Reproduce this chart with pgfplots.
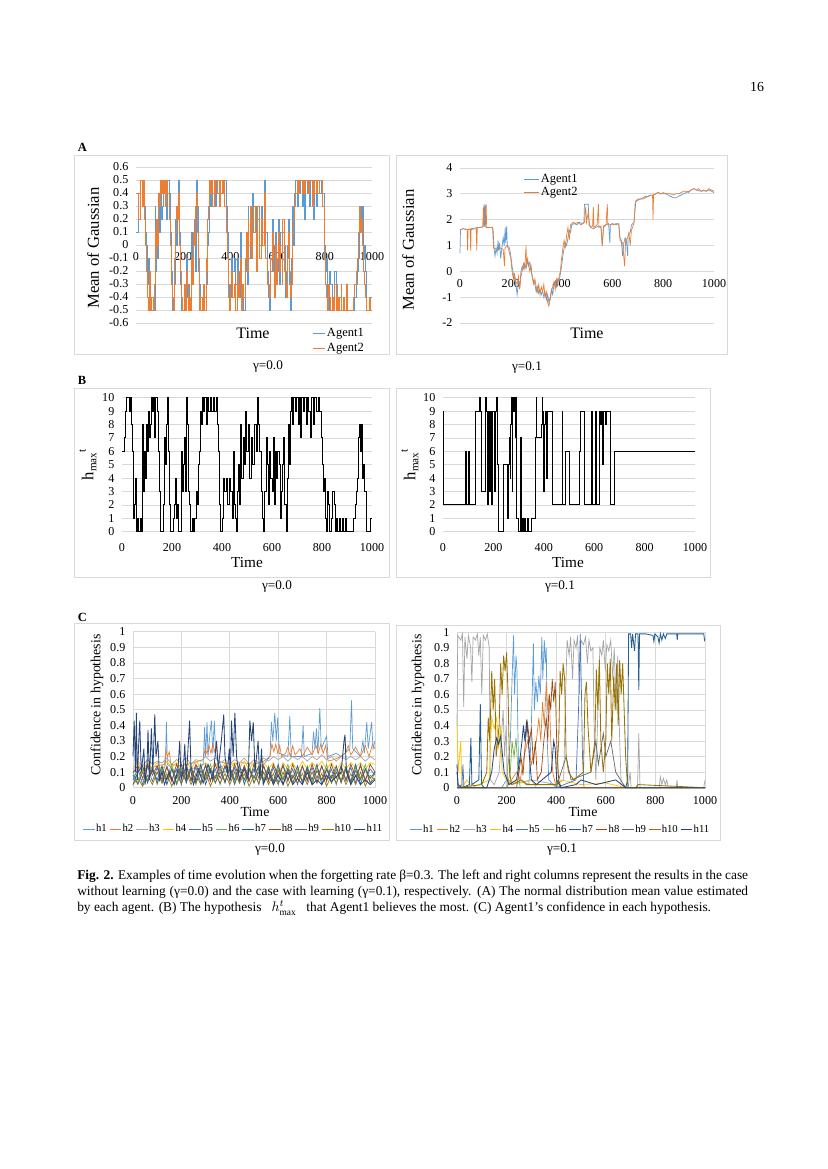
\documentclass[border=0pt]{standalone}
\usepackage{fontspec}
\setmainfont{Liberation Serif}
\usepackage{pgfplots}
\usepackage{pgfplotstable}
\pgfplotsset{compat=1.18}

\definecolor{gridc}{HTML}{D9D9D9}
\definecolor{framec}{HTML}{D9D9D9}
\definecolor{c1}{HTML}{5B9BD5}
\definecolor{c2}{HTML}{ED7D31}
\definecolor{c3}{HTML}{A5A5A5}
\definecolor{c4}{HTML}{FFC000}
\definecolor{c5}{HTML}{4472C4}
\definecolor{c6}{HTML}{70AD47}
\definecolor{c7}{HTML}{255E91}
\definecolor{c8}{HTML}{9E480E}
\definecolor{c9}{HTML}{636363}
\definecolor{c10}{HTML}{997300}
\definecolor{c11}{HTML}{264478}

% h_max of Agent1 (h) and the level of Agent2 (a), gamma=0.0
\pgfplotstableread{
t h a
0 6 9
8 7 8
12 9 7
18 10 10
28 9 8
32 10 10
36 8 7
40 6 5
44 5 3
46 1 2
50 2 1
54 4 0
57 0 3
62 1 0
66 0 1
72 1 0
76 0 2
80 8 6
84 3 4
88 6 7
92 4 5
96 8 9
100 6 8
104 9 10
108 7 9
112 8 10
116 10 9
120 9 10
124 10 8
130 7 10
134 10 9
140 9 7
146 6 5
150 3 2
152 0 1
160 0 0
164 2 4
168 7 6
172 5 8
176 8 7
180 10 9
184 6 5
188 2 3
192 0 1
198 0 0
204 1 2
208 2 0
212 4 3
216 1 2
220 2 0
226 0 1
232 0 0
236 6 4
240 3 2
244 5 6
248 7 5
252 3 8
256 10 9
260 8 6
264 3 4
268 2 0
272 0 1
280 1 0
284 0 2
290 1 0
296 3 4
300 2 3
304 5 7
308 6 8
312 9 10
316 8 9
320 10 10
324 9 8
330 10 10
336 8 9
340 10 9
346 9 10
352 10 8
358 9 10
364 10 9
370 9 10
376 10 8
382 8 6
386 6 4
390 2 1
394 0 0
400 1 2
404 4 3
410 3 1
416 4 2
422 2 0
428 4 3
434 3 1
440 1 2
444 6 4
448 2 0
452 1 2
456 0 1
462 3 4
466 5 6
470 2 3
474 8 7
478 4 5
484 7 8
490 5 4
494 9 7
498 6 8
504 8 6
510 4 3
516 7 8
522 5 4
530 8 7
536 6 5
542 10 9
546 8 7
550 6 4
556 3 2
560 1 2
564 0 1
570 3 4
576 7 6
580 5 3
586 2 1
590 6 5
594 4 2
600 3 4
604 7 6
608 2 3
612 6 5
618 4 2
622 6 7
628 5 3
632 1 2
636 3 1
640 5 4
644 7 6
650 2 3
656 0 1
660 4 2
664 8 6
668 5 7
672 9 8
676 10 9
682 8 10
686 10 9
692 9 10
696 10 10
704 8 9
708 10 10
712 7 9
716 10 10
724 9 10
730 10 9
736 8 10
740 10 10
746 9 8
752 7 10
756 10 9
764 8 10
770 10 9
778 9 10
784 10 10
790 9 8
796 7 6
800 5 4
804 3 2
808 4 1
812 1 0
816 0 2
820 3 1
824 2 0
830 0 1
836 1 0
842 3 2
848 2 0
852 0 1
856 1 0
862 0 1
868 1 2
872 0 0
880 1 1
884 0 0
892 1 2
896 0 0
920 0 1
926 1 2
932 2 3
938 3 4
942 4 6
946 7 8
950 8 6
954 6 7
958 8 5
962 4 3
966 5 2
970 3 1
976 0 0
990 0 1
994 1 0
1000 1 0
}\hleft

% background band of confidences, gamma=0.0
\pgfplotstableread{
t h3 h4 h5 h6 h7 h8 h9 h10
0 0.12 0.15 0.05 0.10 0.02 0.10 0.08 0.02
20 0.17 0.16 0.12 0.03 0.10 0.14 0.02 0.06
40 0.14 0.10 0.02 0.12 0.14 0.06 0.10 0.01
60 0.18 0.16 0.14 0.05 0.03 0.15 0.04 0.08
80 0.15 0.12 0.04 0.14 0.12 0.08 0.12 0.02
100 0.17 0.16 0.13 0.02 0.05 0.14 0.03 0.10
120 0.16 0.11 0.03 0.13 0.14 0.05 0.11 0.03
140 0.19 0.17 0.14 0.06 0.02 0.13 0.05 0.09
160 0.15 0.13 0.05 0.15 0.12 0.04 0.12 0.01
180 0.18 0.16 0.12 0.03 0.06 0.15 0.02 0.08
200 0.16 0.12 0.02 0.12 0.15 0.06 0.10 0.03
220 0.19 0.17 0.14 0.05 0.03 0.14 0.04 0.10
240 0.15 0.12 0.04 0.14 0.13 0.05 0.12 0.02
260 0.18 0.17 0.13 0.02 0.04 0.15 0.03 0.09
280 0.17 0.13 0.03 0.13 0.15 0.07 0.11 0.02
300 0.20 0.16 0.15 0.06 0.02 0.14 0.05 0.10
320 0.17 0.12 0.05 0.15 0.12 0.04 0.12 0.01
340 0.19 0.16 0.12 0.03 0.06 0.15 0.03 0.08
360 0.16 0.11 0.02 0.12 0.14 0.06 0.10 0.03
380 0.18 0.16 0.14 0.04 0.03 0.14 0.04 0.09
400 0.15 0.12 0.04 0.14 0.13 0.05 0.12 0.02
420 0.18 0.16 0.13 0.03 0.05 0.15 0.02 0.10
440 0.16 0.13 0.03 0.13 0.15 0.06 0.11 0.03
460 0.19 0.17 0.14 0.05 0.02 0.14 0.05 0.09
480 0.15 0.12 0.05 0.15 0.12 0.04 0.12 0.01
500 0.18 0.16 0.12 0.03 0.06 0.15 0.03 0.08
520 0.16 0.11 0.02 0.12 0.14 0.06 0.10 0.03
540 0.19 0.16 0.14 0.05 0.03 0.14 0.04 0.10
560 0.17 0.12 0.04 0.14 0.13 0.05 0.12 0.02
580 0.20 0.16 0.13 0.02 0.04 0.15 0.03 0.09
600 0.18 0.08 0.03 0.13 0.15 0.07 0.11 0.02
620 0.20 0.16 0.15 0.06 0.02 0.14 0.05 0.10
640 0.17 0.12 0.05 0.15 0.12 0.04 0.12 0.01
660 0.20 0.16 0.12 0.03 0.06 0.15 0.03 0.08
680 0.18 0.11 0.02 0.12 0.14 0.06 0.10 0.03
700 0.20 0.17 0.14 0.04 0.03 0.14 0.04 0.09
720 0.17 0.12 0.04 0.14 0.13 0.05 0.12 0.02
740 0.20 0.16 0.13 0.03 0.05 0.15 0.02 0.10
760 0.18 0.13 0.03 0.13 0.15 0.06 0.11 0.03
780 0.21 0.17 0.14 0.05 0.02 0.14 0.05 0.09
800 0.18 0.12 0.05 0.15 0.12 0.04 0.12 0.01
820 0.20 0.16 0.12 0.03 0.06 0.15 0.03 0.08
840 0.17 0.11 0.02 0.12 0.14 0.06 0.10 0.03
860 0.20 0.16 0.14 0.05 0.03 0.14 0.04 0.10
880 0.18 0.12 0.04 0.14 0.13 0.05 0.12 0.02
900 0.20 0.16 0.13 0.02 0.04 0.15 0.03 0.09
920 0.18 0.13 0.03 0.13 0.15 0.07 0.11 0.02
940 0.20 0.16 0.15 0.06 0.02 0.14 0.05 0.10
960 0.17 0.12 0.05 0.15 0.12 0.04 0.12 0.01
980 0.20 0.16 0.12 0.03 0.06 0.15 0.03 0.08
1000 0.18 0.15 0.08 0.10 0.10 0.10 0.06 0.05
}\cband

\pgfplotsset{
  base/.style={
    scale only axis, xmin=0, xmax=1000,
    xtick={0,200,400,600,800,1000},
    axis line style={draw=none}, major tick length=0pt,
    ymajorgrids, grid style={draw=gridc, line width=0.5pt},
    tick label style={font=\fontsize{8.7}{10}\selectfont},
    xticklabel style={yshift=-2pt}, yticklabel style={xshift=-2pt},
    /pgf/number format/assume math mode=true,
    /pgf/number format/1000 sep={},
    legend cell align=left, clip=false,
  },
}

\begin{document}
\begin{tikzpicture}[x=0.72pt, y=0.72pt]
\path[use as bounding box, fill=white] (0,0) rectangle (827,1169);

% chart frames
\draw[framec, line width=0.5pt] (74,1014) rectangle (389,815);
\draw[framec, line width=0.5pt] (396,1014) rectangle (727,815);
\draw[framec, line width=0.5pt] (74,781) rectangle (389,592);
\draw[framec, line width=0.5pt] (396,781) rectangle (710,592);
\draw[framec, line width=0.5pt] (74,546) rectangle (389,329);
\draw[framec, line width=0.5pt] (396,544) rectangle (720,329);

\coordinate (pAl) at (136,846);
\coordinate (pAr) at (460,846);
\coordinate (pBl) at (122,637.3);
\coordinate (pBr) at (443,637.3);
\coordinate (pCl) at (133,381.3);
\coordinate (pCr) at (457,381.3);

% ---------- A, gamma = 0.0
\begin{axis}[base, at={(pAl)}, anchor=south west,
  width=169.92pt, height=112.32pt, ymin=-0.6, ymax=0.6,
  ytick={-0.6,-0.5,-0.4,-0.3,-0.2,-0.1,0,0.1,0.2,0.3,0.4,0.5,0.6},
  yticklabel style={/pgf/number format/fixed, /pgf/number format/precision=1},
  axis x line*=middle, axis y line*=left, hide obscured x ticks=false,
  x axis line style={draw=gridc, line width=0.5pt},
  legend style={at={(0.728,-0.005)}, anchor=north west, draw=none, fill=none,
    font=\fontsize{9}{10}\selectfont, row sep=1.5pt, nodes={inner sep=1pt}},
  legend image code/.code={\draw[#1,line width=0.6pt] (0pt,0pt) -- (9pt,0pt);},
]
\addplot[c1, line width=0.5pt, const plot] table[x=t, y expr=(\thisrow{h}-5)/10] {\hleft};
\addlegendentry{Agent1}
\addplot[c2, line width=0.5pt, const plot] table[x=t, y expr=(\thisrow{a}-5)/10] {\hleft};
\addlegendentry{Agent2}
\end{axis}

% ---------- A, gamma = 0.1
\begin{axis}[base, at={(pAr)}, anchor=south west,
  width=182.88pt, height=111.6pt, ymin=-2, ymax=4,
  ytick={-2,-1,0,1,2,3,4},
  axis x line*=middle, axis y line*=left, hide obscured x ticks=false,
  x axis line style={draw=gridc, line width=0.5pt},
  legend style={at={(0.232,0.99)}, anchor=north west, draw=none, fill=none,
    font=\fontsize{9}{10}\selectfont, row sep=0pt, nodes={inner sep=1pt}},
  legend image code/.code={\draw[#1,line width=0.6pt] (0pt,0pt) -- (11pt,0pt);},
]
\addplot[c1, line width=0.5pt] coordinates {
(0,0.7) (2,1.6) (10,1.65) (30,1.62) (60,1.68) (90,1.72) (95,2.6) (97,1.72)
(100,2.55) (102,1.7) (125,1.7) (130,1.65) (134,0.9) (138,0.6) (142,0.9)
(146,0.7) (150,1.2) (152,0.8) (156,1.1) (160,0.5) (165,0.9) (170,1.3)
(174,1.0) (178,1.7) (180,1.1) (184,1.75) (186,1.0) (195,0.9) (200,0.6)
(205,0.2) (210,-0.1) (215,-0.3) (220,-0.5) (225,-0.9) (230,-0.4) (235,-0.6)
(240,0.0) (245,0.2) (250,0.1) (255,0.3) (260,0.1) (265,0.4) (270,0.2)
(275,0.35) (280,0.0) (285,-0.2) (290,-0.4) (295,-0.5) (300,-0.8) (305,-0.6)
(310,-0.85) (315,-0.7) (320,-0.9) (325,-0.75) (330,-1.0) (335,-0.8)
(340,-1.1) (345,-0.9) (350,-1.2) (355,-1.0) (360,-0.7) (365,-0.9) (370,-0.5)
(375,-0.4) (380,-0.6) (385,-0.3) (390,-0.4) (395,-0.1) (400,0.2) (405,0.6)
(410,0.9) (415,1.1) (420,1.0) (425,1.3) (430,1.6) (435,1.5) (440,1.8)
(450,1.85) (460,1.8) (470,1.9) (480,1.85) (488,1.9) (490,2.6) (505,2.6)
(508,1.8) (515,1.7) (525,1.65) (535,1.7) (545,1.75) (555,1.7) (560,1.0)
(565,1.7) (575,1.8) (585,1.85) (590,1.1) (592,1.8) (600,1.85) (610,1.8)
(625,1.85) (630,1.3) (635,1.2) (640,0.6) (645,1.1) (650,1.3) (655,1.2)
(660,0.6) (662,1.4) (670,1.5) (675,1.8) (685,1.9) (692,2.7) (700,2.75)
(710,2.8) (720,2.8) (730,2.85) (740,2.9) (750,2.95) (760,2.95) (770,3.0)
(780,3.05) (790,3.0) (800,3.0) (810,3.0) (820,2.95) (830,2.9) (840,2.85)
(850,2.85) (860,2.9) (870,2.95) (880,3.0) (890,3.05) (900,3.1) (910,3.15)
(920,3.2) (930,3.15) (940,3.12) (950,3.1) (960,3.12) (970,3.1) (980,3.15)
(990,3.1) (1000,3.05)
};
\addlegendentry{Agent1}
\addplot[c2, line width=0.5pt] coordinates {
(0,1.6) (10,1.65) (28,1.62) (30,0.8) (32,1.62) (40,1.62) (42,0.8) (44,1.62)
(64,1.65) (66,0.8) (68,1.68) (90,1.72) (92,2.5) (94,1.72) (103,2.6)
(105,1.7) (128,1.7) (132,0.9) (150,0.85) (160,0.9) (170,0.85) (175,0.2)
(177,0.9) (185,1.0) (190,0.9) (200,0.5) (205,0.0) (210,-0.3) (215,-0.1)
(220,-0.4) (225,-0.5) (230,-0.2) (235,-0.7) (240,-0.2) (245,0.0) (250,0.3)
(255,0.1) (260,1.0) (262,0.2) (265,0.5) (270,0.3) (275,0.0) (280,0.2)
(285,-0.3) (290,-0.5) (295,-0.3) (300,-0.6) (305,-0.8) (310,-0.5)
(315,-0.9) (320,-0.6) (325,-0.8) (330,-0.5) (335,-1.0) (340,-0.8)
(345,-1.2) (350,-1.35) (355,-1.1) (360,-0.8) (365,-0.6) (370,-0.4)
(375,-0.7) (380,-0.3) (385,-0.5) (390,-0.2) (395,0.0) (400,0.5) (405,0.9)
(410,1.2) (415,0.95) (420,1.4) (425,1.7) (430,1.2) (435,1.8) (445,1.9)
(455,1.85) (465,1.9) (475,1.8) (485,1.85) (490,1.9) (495,2.5) (498,1.9)
(505,2.3) (510,1.8) (515,1.7) (522,1.75) (525,2.5) (527,1.7) (540,1.8)
(545,2.6) (547,1.7) (555,1.75) (560,1.0) (565,1.75) (575,1.8) (580,2.6)
(582,1.8) (600,1.8) (615,1.85) (625,1.8) (630,1.2) (640,1.1) (648,0.2)
(652,1.2) (660,1.3) (665,1.5) (670,1.0) (675,1.6) (685,1.85) (690,2.7)
(700,2.8) (710,2.8) (720,2.85) (730,2.9) (740,2.9) (750,2.95) (758,2.95)
(760,2.0) (762,2.95) (770,3.0) (780,3.05) (790,3.0) (800,3.05) (810,3.0)
(820,3.0) (830,3.0) (840,2.95) (850,3.0) (860,3.0) (870,3.05) (880,3.1)
(890,3.1) (900,3.05) (910,3.15) (920,3.2) (930,3.15) (940,3.2) (950,3.1)
(960,3.15) (970,3.1) (980,3.2) (990,3.15) (1000,3.1)
};
\addlegendentry{Agent2}
\end{axis}

% ---------- B, gamma = 0.0
\begin{axis}[base, at={(pBl)}, anchor=south west,
  width=180pt, height=96.48pt, ymin=0, ymax=10, ytick={0,1,...,10},
  xticklabel style={yshift=-3pt},
]
\addplot[black, line width=0.6pt, const plot] table[x=t, y=h] {\hleft};
\end{axis}

% ---------- B, gamma = 0.1
\begin{axis}[base, at={(pBr)}, anchor=south west,
  width=181.44pt, height=96.48pt, ymin=0, ymax=10, ytick={0,1,...,10},
  xticklabel style={yshift=-3pt},
]
\addplot[black, line width=0.6pt, const plot] coordinates {
(0,9) (3,2) (89,6) (93,2) (102,6) (105,2) (130,9) (145,10) (148,9) (153,3)
(170,10) (173,9) (178,2) (182,9) (186,3) (190,9) (194,2) (198,9) (204,3)
(207,9) (210,10) (214,5) (218,0) (240,5) (256,1) (260,5) (262,7) (266,4)
(268,8) (271,10) (274,3) (276,10) (280,9) (283,10) (286,7) (289,10) (292,1)
(298,0) (308,7) (312,0) (316,1) (320,0) (324,1) (328,0) (334,1) (340,0)
(350,1) (366,7) (370,10) (372,7) (380,7) (390,8) (394,10) (396,9) (400,3)
(404,8) (408,9) (412,4) (416,9) (436,2) (472,9) (474,2) (486,6) (500,2)
(540,6) (545,9) (560,2) (588,9) (592,2) (604,9) (608,2) (620,9) (626,8)
(630,9) (634,5) (638,9) (644,8) (650,9) (664,2) (680,6) (1000,6)
};
\end{axis}

% ---------- C, gamma = 0.0
\begin{axis}[base, at={(pCl)}, anchor=south west,
  width=174.24pt, height=112.32pt, ymin=0, ymax=1,
  ytick={0,0.1,0.2,0.3,0.4,0.5,0.6,0.7,0.8,0.9,1},
  xmajorgrids, xticklabel style={yshift=-1pt},
  legend style={at={(0.413,-0.265)}, anchor=center, draw=none, fill=none,
    legend columns=11, font=\fontsize{7.7}{8}\selectfont,
    /tikz/every even column/.append style={column sep=1.2pt},
    nodes={inner sep=0.6pt}},
  legend image code/.code={\draw[#1,line width=0.6pt] (0pt,0pt) -- (8.4pt,0pt);},
]
\addplot[c1, line width=0.5pt] coordinates {
(0,0.08) (40,0.05) (80,0.1) (120,0.08) (134,0.15) (138,0.42) (142,0.15)
(180,0.1) (240,0.12) (290,0.15) (296,0.39) (300,0.2) (306,0.42) (310,0.2)
(318,0.35) (324,0.43) (330,0.22) (336,0.43) (342,0.2) (380,0.1) (440,0.12)
(500,0.1) (540,0.15) (566,0.2) (572,0.42) (578,0.3) (586,0.48) (592,0.3)
(598,0.45) (604,0.22) (640,0.2) (648,0.46) (654,0.2) (696,0.2) (703,0.4)
(708,0.2) (740,0.22) (746,0.36) (752,0.25) (758,0.38) (764,0.22) (772,0.51)
(778,0.25) (800,0.33) (806,0.2) (840,0.22) (860,0.2) (896,0.25) (903,0.56)
(908,0.25) (940,0.2) (950,0.3) (956,0.22) (966,0.42) (972,0.25) (986,0.42)
(992,0.25) (1000,0.3)
};
\addplot[c2, line width=0.5pt] coordinates {
(0,0.1) (30,0.13) (60,0.12) (100,0.14) (130,0.15) (136,0.24) (142,0.2)
(150,0.23) (156,0.15) (200,0.14) (250,0.16) (290,0.18) (298,0.25) (306,0.22)
(314,0.27) (322,0.22) (330,0.28) (338,0.23) (346,0.27) (352,0.17) (400,0.15)
(450,0.16) (500,0.15) (540,0.17) (566,0.2) (574,0.28) (582,0.23) (590,0.28)
(598,0.22) (606,0.27) (614,0.2) (630,0.22) (640,0.26) (650,0.2) (660,0.27)
(670,0.21) (690,0.25) (700,0.2) (720,0.26) (740,0.21) (756,0.27) (766,0.22)
(776,0.28) (786,0.22) (796,0.27) (806,0.17) (830,0.18) (860,0.2) (876,0.22)
(890,0.27) (900,0.21) (920,0.26) (940,0.2) (960,0.27) (975,0.2) (990,0.28)
(1000,0.25)
};
\addplot[c3, line width=0.5pt] table[x=t, y=h3] {\cband};
\addplot[c4, line width=0.5pt] table[x=t, y=h4] {\cband};
\addplot[c5, line width=0.5pt] table[x=t, y=h5] {\cband};
\addplot[c6, line width=0.5pt] table[x=t, y=h6] {\cband};
\addplot[c7, line width=0.5pt] table[x=t, y=h7] {\cband};
\addplot[c8, line width=0.5pt] table[x=t, y=h8] {\cband};
\addplot[c9, line width=0.5pt] table[x=t, y=h9] {\cband};
\addplot[c10, line width=0.5pt] table[x=t, y=h10] {\cband};
\addplot[c11, line width=0.6pt] coordinates {
(0,0.2) (5,0.43) (10,0.1) (14,0.48) (18,0.05) (24,0.3) (28,0.43) (34,0.1)
(45,0.25) (50,0.02) (58,0.15) (62,0.37) (68,0.05) (76,0.38) (82,0.1)
(90,0.47) (95,0.2) (103,0.3) (110,0.05) (120,0.1) (130,0.02) (150,0.1)
(170,0.02) (186,0.12) (193,0.3) (199,0.05) (208,0.12) (214,0.28) (220,0.05)
(234,0.43) (240,0.1) (250,0.02) (270,0.12) (290,0.03) (310,0.15) (330,0.05)
(345,0.3) (352,0.12) (365,0.3) (375,0.47) (380,0.2) (390,0.1) (398,0.25)
(402,0.05) (407,0.43) (414,0.2) (421,0.48) (428,0.2) (440,0.05) (460,0.12)
(476,0.05) (483,0.43) (490,0.3) (497,0.42) (504,0.1) (517,0.3) (524,0.05)
(531,0.25) (538,0.02) (560,0.1) (580,0.02) (600,0.08) (620,0.02) (640,0.1)
(660,0.02) (680,0.06) (700,0.02) (720,0.1) (740,0.02) (760,0.05) (780,0.02)
(800,0.08) (820,0.04) (860,0.1) (872,0.3) (876,0.34) (882,0.1) (900,0.02)
(920,0.08) (940,0.02) (960,0.05) (980,0.02) (1000,0.05)
};
\legend{h1,h2,h3,h4,h5,h6,h7,h8,h9,h10,h11}
\end{axis}

% ---------- C, gamma = 0.1
\begin{axis}[base, at={(pCr)}, anchor=south west,
  width=178.56pt, height=111.9pt, ymin=0, ymax=1,
  ytick={0,0.1,0.2,0.3,0.4,0.5,0.6,0.7,0.8,0.9,1},
  xmajorgrids, xticklabel style={yshift=-1pt},
  legend style={at={(0.415,-0.27)}, anchor=center, draw=none, fill=none,
    legend columns=11, font=\fontsize{7.7}{8}\selectfont,
    /tikz/every even column/.append style={column sep=1.2pt},
    nodes={inner sep=0.6pt}},
  legend image code/.code={\draw[#1,line width=0.6pt] (0pt,0pt) -- (8.4pt,0pt);},
]
\addplot[c1, line width=0.5pt] coordinates {
(0,0.0) (180,0.0) (200,0.05) (215,0.3) (222,0.7) (228,0.98) (232,0.6)
(238,0.85) (242,0.75) (246,0.3) (250,0.05) (290,0.02) (298,0.3) (304,0.65)
(308,0.93) (312,0.5) (318,0.68) (324,0.55) (330,0.72) (336,0.6) (342,0.97)
(346,0.7) (352,0.95) (356,0.8) (360,0.9) (364,0.3) (370,0.05) (400,0.0)
(1000,0.0)
};
\addplot[c2, line width=0.5pt] coordinates {
(0,0.0) (200,0.0) (220,0.05) (240,0.1) (255,0.05) (270,0.2) (285,0.3)
(300,0.15) (320,0.3) (330,0.45) (338,0.3) (345,0.55) (352,0.4) (360,0.68)
(366,0.5) (372,0.6) (378,0.3) (386,0.1) (400,0.0) (1000,0.0)
};
\addplot[c3, line width=0.5pt] coordinates {
(0,0.4) (3,0.98) (15,0.95) (22,0.99) (27,0.52) (32,0.97) (40,0.83) (46,0.98)
(55,0.9) (60,0.68) (65,0.97) (75,0.95) (82,0.99) (88,0.85) (94,0.97)
(100,0.6) (106,0.98) (115,0.95) (122,0.99) (130,0.9) (134,0.05) (150,0.02)
(170,0.1) (180,0.35) (186,0.5) (192,0.2) (198,0.4) (204,0.05) (220,0.02)
(300,0.05) (400,0.02) (430,0.05) (438,0.6) (444,0.95) (452,0.85) (458,0.97)
(466,0.7) (472,0.95) (480,0.9) (486,0.98) (494,0.6) (500,0.95) (510,0.92)
(518,0.97) (526,0.8) (532,0.95) (540,0.88) (548,0.9) (554,0.3) (560,0.05)
(570,0.6) (576,0.9) (584,0.85) (590,0.95) (598,0.75) (604,0.92) (612,0.88)
(620,0.95) (628,0.7) (634,0.9) (642,0.5) (648,0.85) (656,0.3) (662,0.02)
(690,0.0) (698,0.1) (702,0.0) (728,0.0) (733,0.35) (738,0.0) (815,0.0)
(820,0.07) (826,0.02) (832,0.06) (840,0.02) (846,0.05) (852,0.0) (884,0.0)
(887,0.05) (890,0.0) (995,0.0) (1000,0.05)
};
\addplot[c4, line width=0.5pt] coordinates {
(0,0.4) (5,0.1) (15,0.3) (20,0.0) (40,0.05) (60,0.0) (130,0.05) (140,0.45)
(150,0.38) (160,0.45) (168,0.25) (175,0.4) (182,0.1) (200,0.05) (260,0.03)
(300,0.05) (320,0.0) (400,0.0) (420,0.05) (500,0.02) (600,0.03) (680,0.0)
(1000,0.0)
};
\addplot[c5, line width=0.5pt] coordinates {
(0,0.0) (20,0.02) (24,0.15) (28,0.0) (60,0.0) (400,0.0) (480,0.05)
(490,0.5) (497,0.99) (502,0.6) (506,0.2) (512,0.0) (1000,0.0)
};
\addplot[c6, line width=0.5pt] coordinates {
(0,0.0) (200,0.0) (215,0.1) (222,0.3) (230,0.2) (238,0.32) (246,0.1)
(255,0.0) (1000,0.0)
};
\addplot[c7, line width=0.6pt] coordinates {
(0,0.1) (5,0.02) (20,0.0) (50,0.02) (56,0.32) (60,0.02) (88,0.05) (94,0.54)
(99,0.02) (110,0.0) (680,0.0) (688,0.05) (692,0.99) (700,0.99) (704,0.9)
(708,0.99) (716,0.88) (720,0.99) (730,0.99) (733,0.63) (736,0.99)
(760,0.99) (790,0.98) (794,0.94) (798,0.99) (810,0.97) (815,0.93)
(820,0.99) (826,0.95) (832,0.99) (840,0.96) (846,0.99) (860,0.99)
(886,0.99) (888,0.95) (890,0.99) (995,0.99) (998,0.95) (1000,0.96)
};
\addplot[c8, line width=0.5pt] coordinates {
(0,0.0) (240,0.0) (250,0.1) (258,0.2) (266,0.08) (276,0.3) (284,0.42)
(292,0.3) (300,0.38) (308,0.15) (316,0.3) (324,0.05) (340,0.1) (350,0.3)
(360,0.45) (366,0.3) (372,0.6) (378,0.5) (384,0.7) (390,0.55) (396,0.68)
(402,0.3) (410,0.05) (420,0.0) (1000,0.0)
};
\addplot[c9, line width=0.5pt] coordinates {
(0,0.0) (400,0.0) (420,0.1) (440,0.2) (460,0.05) (540,0.1) (560,0.3)
(570,0.15) (590,0.35) (600,0.2) (620,0.3) (640,0.1) (680,0.0) (1000,0.0)
};
\addplot[c10, line width=0.6pt] coordinates {
(0,0.0) (100,0.02) (120,0.1) (126,0.45) (132,0.3) (140,0.75) (146,0.5)
(152,0.7) (158,0.2) (170,0.4) (176,0.8) (182,0.6) (188,0.85) (194,0.75)
(200,0.87) (206,0.6) (212,0.1) (220,0.02) (260,0.05) (280,0.02) (400,0.02)
(410,0.3) (416,0.75) (422,0.6) (428,0.8) (434,0.7) (440,0.2) (450,0.1)
(470,0.05) (510,0.1) (516,0.6) (522,0.68) (528,0.4) (540,0.1) (556,0.3)
(562,0.76) (568,0.5) (574,0.82) (580,0.3) (590,0.1) (600,0.3) (606,0.8)
(612,0.6) (618,0.83) (624,0.3) (632,0.72) (638,0.5) (644,0.8) (650,0.4)
(656,0.82) (662,0.6) (668,0.8) (674,0.5) (680,0.2) (686,0.05) (690,0.0)
(720,0.0) (730,0.02) (1000,0.0)
};
\addplot[c11, line width=0.6pt] coordinates {
(0,0.15) (4,0.0) (120,0.0) (140,0.1) (150,0.25) (160,0.32) (168,0.28)
(176,0.33) (184,0.2) (190,0.1) (210,0.02) (240,0.05) (255,0.2) (262,0.3)
(268,0.4) (274,0.3) (280,0.42) (286,0.35) (292,0.2) (300,0.05) (320,0.02)
(380,0.1) (390,0.3) (396,0.25) (402,0.05) (420,0.0) (480,0.02) (500,0.05)
(560,0.02) (640,0.05) (680,0.0) (1000,0.0)
};
\legend{h1,h2,h3,h4,h5,h6,h7,h8,h9,h10,h11}
\end{axis}

% ---------- texts
\node[font=\fontsize{10}{12}\selectfont] at (757,1082) {16};
\node[anchor=west, font=\bfseries\fontsize{9}{10}\selectfont] at (73,1022) {A};
\node[anchor=west, font=\bfseries\fontsize{9}{10}\selectfont] at (73,789) {B};
\node[anchor=west, font=\bfseries\fontsize{9}{10}\selectfont] at (73,552) {C};

\node[rotate=90, font=\fontsize{12}{14}\selectfont] at (93,921) {Mean of Gaussian};
\node[font=\fontsize{11.5}{13}\selectfont] at (253,836) {Time};
\node[rotate=90, font=\fontsize{12}{14}\selectfont] at (408,919) {Mean of Gaussian};
\node[font=\fontsize{11.5}{13}\selectfont] at (587,836) {Time};

\node[rotate=90, font=\fontsize{12}{14}\selectfont] at (88,704)
  {h\raisebox{-0.4ex}{\fontsize{8}{9}\selectfont max}\raisebox{1.0ex}{\fontsize{8}{9}\selectfont t}};
\node[font=\fontsize{11}{13}\selectfont] at (247,606) {Time};
\node[rotate=90, font=\fontsize{12}{14}\selectfont] at (410,704)
  {h\raisebox{-0.4ex}{\fontsize{8}{9}\selectfont max}\raisebox{1.0ex}{\fontsize{8}{9}\selectfont t}};
\node[font=\fontsize{11}{13}\selectfont] at (568,606) {Time};

\node[rotate=90, font=\fontsize{10}{12}\selectfont] at (97,464) {Confidence in hypothesis};
\node[font=\fontsize{10}{12}\selectfont] at (255,357) {Time};
\node[rotate=90, font=\fontsize{10}{12}\selectfont] at (418,464) {Confidence in hypothesis};
\node[font=\fontsize{10}{12}\selectfont] at (583,357) {Time};

\node[font=\fontsize{9.5}{11}\selectfont] at (268,802) {γ=0.0};
\node[font=\fontsize{9.5}{11}\selectfont] at (527,801) {γ=0.1};
\node[font=\fontsize{9.5}{11}\selectfont] at (277,582) {γ=0.0};
\node[font=\fontsize{9.5}{11}\selectfont] at (560,582) {γ=0.1};
\node[font=\fontsize{9.5}{11}\selectfont] at (270,319) {γ=0.0};
\node[font=\fontsize{9.5}{11}\selectfont] at (562,319) {γ=0.1};

\node[anchor=north west, inner sep=0pt] at (77,299) {\parbox{483pt}{%
  \fontsize{9.65}{11.5}\selectfont
  \textbf{Fig. 2.} Examples of time evolution when the forgetting rate β=0.3. The left and right columns represent the results in the case\linebreak
  without learning (γ=0.0) and the case with learning (γ=0.1), respectively. (A) The normal distribution mean value estimated\linebreak
  by each agent. (B) The hypothesis\enspace\ $h^{t}_{\max}$\enspace\ that Agent1 believes the most. (C) Agent1's confidence in each hypothesis.}};
\end{tikzpicture}
\end{document}
